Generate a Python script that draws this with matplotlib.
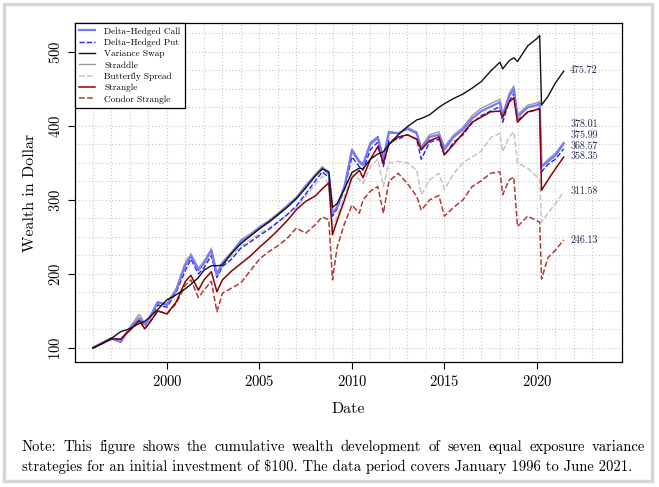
import matplotlib
matplotlib.use("Agg")
import matplotlib.pyplot as plt
import numpy as np
from matplotlib.patches import Rectangle

plt.rcParams['font.family'] = ['cmr10', 'DejaVu Serif']
plt.rcParams['axes.formatter.use_mathtext'] = True

# sampled dates (decimal years)
dates = [1996.0, 1996.5, 1997.0, 1997.5, 1998.0, 1998.5, 1998.8, 1999.0, 1999.5, 2000.0,
         2000.5, 2001.0, 2001.3, 2001.7, 2002.0, 2002.4, 2002.7, 2003.0, 2003.5, 2004.0,
         2004.5, 2005.0, 2005.5, 2006.0, 2006.5, 2007.0, 2007.5, 2008.0, 2008.4, 2008.75,
         2008.95, 2009.2, 2009.6, 2010.0, 2010.4, 2010.6, 2011.0, 2011.4, 2011.7, 2012.0,
         2012.5, 2013.0, 2013.5, 2013.75, 2014.2, 2014.7, 2015.0, 2015.5, 2016.0, 2016.5,
         2017.0, 2017.5, 2018.0, 2018.15, 2018.5, 2018.75, 2018.95, 2019.5, 2020.0, 2020.15,
         2020.25, 2020.6, 2021.0, 2021.45]

call = [100, 107, 113, 108, 127, 140, 132, 138, 162, 158,
        178, 212, 224, 205, 214, 232, 198, 215, 228, 244,
        252, 262, 270, 280, 291, 302, 318, 332, 343, 335,
        282, 290, 318, 368, 352, 348, 377, 385, 356, 392,
        390, 396, 390, 368, 385, 388, 368, 385, 395, 410,
        420, 426, 432, 412, 440, 450, 412, 425, 428, 430,
        345, 352, 360, 376]
put = [100, 106, 112, 110, 126, 138, 130, 137, 158, 155,
       175, 205, 220, 200, 208, 225, 195, 210, 220, 235,
       243, 252, 260, 270, 280, 292, 308, 325, 338, 330,
       278, 288, 315, 358, 345, 340, 368, 378, 345, 380,
       382, 388, 382, 355, 378, 382, 360, 378, 388, 404,
       414, 420, 426, 405, 433, 444, 408, 418, 422, 424,
       338, 348, 355, 369]
var_swap = [100, 106, 113, 122, 126, 133, 136, 140, 152, 165,
            172, 180, 186, 195, 205, 211, 211, 212, 228, 241,
            251, 261, 270, 280, 290, 302, 316, 332, 342, 338,
            290, 295, 315, 337, 343, 342, 355, 362, 365, 375,
            388, 399, 408, 410, 415, 425, 430, 437, 443, 451,
            460, 474, 486, 477, 488, 492, 487, 508, 518, 522,
            428, 440, 458, 474]
straddle = [100, 107, 114, 111, 128, 145, 133, 139, 160, 160,
            180, 215, 226, 208, 216, 233, 202, 216, 230, 246,
            254, 264, 272, 282, 293, 304, 320, 334, 345, 337,
            280, 292, 320, 365, 350, 346, 374, 383, 355, 390,
            390, 398, 392, 372, 388, 392, 372, 388, 398, 414,
            424, 430, 436, 416, 444, 454, 415, 428, 431, 433,
            345, 355, 363, 378]
butterfly = [100, 107, 114, 110, 128, 146, 133, 139, 160, 160,
             180, 218, 228, 208, 218, 235, 200, 212, 224, 238,
             246, 255, 262, 270, 280, 290, 305, 320, 332, 322,
             262, 278, 305, 335, 328, 322, 345, 355, 318, 350,
             352, 350, 340, 307, 327, 336, 314, 336, 350, 358,
             366, 384, 390, 365, 385, 392, 350, 343, 331, 328,
             270, 282, 295, 311]
strangle = [100, 106, 112, 112, 124, 137, 126, 132, 150, 146,
            162, 190, 198, 178, 192, 203, 176, 192, 204, 214,
            224, 236, 247, 259, 272, 287, 298, 305, 315, 323,
            253, 272, 300, 330, 340, 330, 355, 372, 350, 375,
            385, 388, 382, 368, 380, 385, 361, 375, 390, 405,
            412, 419, 420, 412, 432, 438, 405, 419, 422, 423,
            313, 327, 342, 358]
condor = [100, 106, 112, 112, 124, 137, 126, 132, 150, 146,
          160, 185, 192, 168, 178, 190, 149, 174, 181, 188,
          204, 220, 230, 238, 248, 262, 255, 266, 277, 273,
          192, 236, 268, 293, 282, 300, 312, 318, 282, 325,
          336, 322, 305, 286, 300, 306, 278, 290, 300, 318,
          326, 336, 338, 307, 327, 331, 264, 278, 272, 270,
          193, 222, 232, 246]

names = ["Delta\u2013Hedged Call", "Delta\u2013Hedged Put", "Variance Swap", "Straddle",
         "Butterfly Spread", "Strangle", "Condor Strangle"]
final_values = [375.99, 368.57, 475.72, 378.01, 311.58, 358.35, 246.13]

series = [call, put, var_swap, straddle, butterfly, strangle, condor]
colors = ["#7777ff", "#1f1fff", "#111111", "#9a9a9a", "#c4c4c4", "#8b0000", "#b03a3a"]
styles = ["-", "--", "-", "-", "--", "-", "--"]
widths = [1.6, 1.0, 1.0, 1.0, 1.1, 1.1, 1.1]
order = [4, 6, 3, 1, 0, 5, 2]

fig = plt.figure(figsize=(6.59, 4.87), dpi=100)
ax = fig.add_axes([75 / 659, 1 - 362 / 487, (622 - 75) / 659, (362 - 23) / 487])

for yr in range(1996, 2024):
    ax.axvline(yr, color="#c8c8c8", ls=(0, (1, 2)), lw=0.8, zorder=0)
for v in range(100, 550, 25):
    ax.axhline(v, color="#c8c8c8", ls=(0, (1, 2)), lw=0.8, zorder=0)

lines = {}
for i in order:
    ln, = ax.plot(dates, series[i], color=colors[i], ls=styles[i], lw=widths[i],
                  label=names[i], zorder=2 + order.index(i))
    lines[i] = ln

ax.set_xlim(1995.03, 2024.6)
ax.set_ylim(81, 539)
ax.set_xticks([2000, 2005, 2010, 2015, 2020])
ax.set_yticks([100, 200, 300, 400, 500])
ax.tick_params(direction="out", length=5, width=0.8, labelsize=10.5)
for lab in ax.get_yticklabels():
    lab.set_rotation(90)
    lab.set_va("center")
for sp in ax.spines.values():
    sp.set_linewidth(0.9)

ax.set_xlabel("Date", fontsize=11.5, labelpad=10)
ax.set_ylabel("Wealth in Dollar", fontsize=11.5, labelpad=8)

leg = ax.legend([lines[i] for i in range(7)], names, loc="upper left", borderaxespad=0,
                fancybox=False, edgecolor="black", framealpha=1, fontsize=6.7,
                handlelength=1.7, handletextpad=1.0, labelspacing=0.3, borderpad=0.45)
leg.get_frame().set_linewidth(0.9)

# end-of-series labels, spread so they don't overlap
vals = np.array(final_values)
idx = np.argsort(vals)
pos = vals[idx].copy()
gap = 14.5
for k in range(1, len(pos)):
    if pos[k] - pos[k - 1] < gap:
        pos[k] = pos[k - 1] + gap
for k in range(len(idx)):
    ax.text(2021.8, pos[k], "%.2f" % vals[idx[k]], fontsize=7.2, color="#1c2450",
            va="center", ha="left", clip_on=False)

# note, first line justified
line1 = ("Note:  This figure shows the cumulative wealth development of seven "
         "equal exposure variance").split()
line2 = ("strategies for an initial investment of $100. The data period covers "
         "January 1996 to June 2021.")
fig.canvas.draw()
r = fig.canvas.get_renderer()
W, H = 659, 487
fs = 10.55
words = [fig.text(0, 1 - 447 / H, w, fontsize=fs, va="center", ha="left") for w in line1]
wid = [t.get_window_extent(r).width for t in words]
space = (645 - 22 - sum(wid)) / (len(words) - 1)
x = 22
for t, w in zip(words, wid):
    t.set_x(x / W)
    x += w + space
fig.text(22 / W, 1 - 467 / H, line2, fontsize=fs, va="center", ha="left")

fig.patches.append(Rectangle((4 / W, 6 / H), 648 / W, 477 / H, transform=fig.transFigure,
                             fill=False, edgecolor="#d6d6d6", lw=2.5))

fig.savefig("out.png", dpi=100)
